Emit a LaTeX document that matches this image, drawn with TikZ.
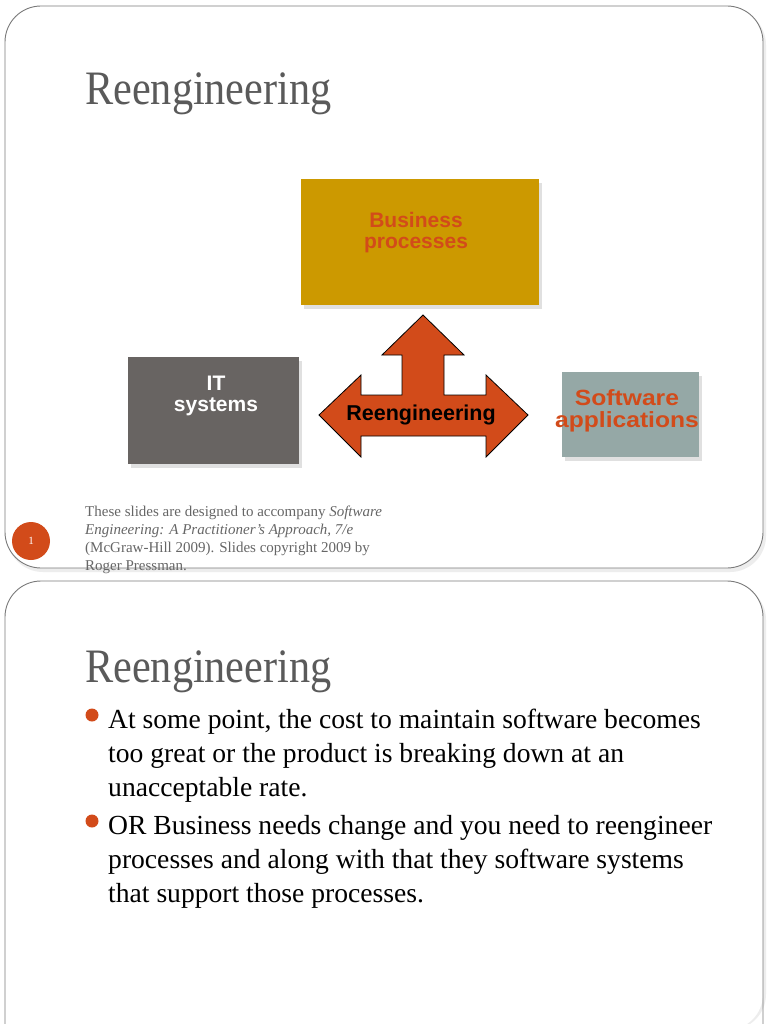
\documentclass[tikz,border=0pt]{standalone}
\usepackage{fontspec}
\setmainfont{Liberation Serif}
\newfontfamily\sansb{Liberation Sans}
\newfontfamily\sanswide[FakeStretch=1.12]{Liberation Sans}
\newfontfamily\titlefont[FakeStretch=0.88]{Liberation Serif}
\usetikzlibrary{shadows}
\definecolor{gold}{HTML}{CC9900}
\definecolor{rust}{HTML}{D24B1A}
\definecolor{itgray}{HTML}{686462}
\definecolor{swgray}{HTML}{95A8A6}
\definecolor{titlegray}{HTML}{5A5A5A}
\definecolor{footgray}{HTML}{666666}
\definecolor{bordergray}{HTML}{7A7A7A}
\tikzset{
  slideframe/.style={draw=bordergray, line width=0.9pt, rounded corners=36pt},
  boxshadow/.style={drop shadow={shadow xshift=3pt, shadow yshift=-4pt, opacity=0.12, fill=black}},
  colbox/.style={rectangle, anchor=north west, inner sep=0pt, boxshadow},
  boxtext/.style={font=\sansb\bfseries\fontsize{21}{21}\selectfont, align=center, anchor=base, inner sep=0pt},
  slidetitle/.style={font=\titlefont\fontsize{48}{48}\selectfont, text=titlegray, anchor=base west, inner sep=0pt},
  bodytext/.style={font=\fontsize{27.6}{34}\selectfont, align=left, anchor=base west, inner sep=0pt},
  bulletdot/.style={circle, fill=rust, minimum size=13pt, inner sep=0pt},
}
\begin{document}
\begin{tikzpicture}[x=1pt,y=-1pt]
\useasboundingbox (0,0) rectangle (768,1024);
\fill[white] (0,0) rectangle (768,1024);
% slide 1
\fill[black!7, rounded corners=36pt] (7,9) rectangle (766,572);
\fill[white, rounded corners=36pt] (5,6) rectangle (763,568);
\draw[slideframe] (5,6) rectangle (763,568);
% slide 2
\fill[black!7, rounded corners=36pt] (7,584) -- (766,584) -- (766,1030) -- (7,1030) -- cycle;
\fill[white, rounded corners=36pt] (5,1030) -- (5,581) -- (763,581) -- (763,1030) -- cycle;
\draw[slideframe] (5,1030) -- (5,581) -- (763,581) -- (763,1030);

% slide 1 content
\node[slidetitle] (t1) at (85,105) {Reengineering};

\node[colbox, fill=gold, minimum width=238pt, minimum height=126pt] (bp) at (301,179) {};
\node[boxtext, text=rust] (bpt) at (416,248) {Business\\processes};

\node[colbox, fill=itgray, minimum width=171pt, minimum height=107pt] (it) at (128,357) {};
\node[boxtext, text=white] (itt) at (216,411) {IT\\systems};

\node[colbox, fill=swgray, minimum width=137pt, minimum height=85pt] (sw) at (562,372) {};
\node[boxtext, text=rust, font=\sanswide\bfseries\fontsize{22}{22}\selectfont] (swt) at (627,427) {Software\\applications};

% three-way arrow
\draw[fill=rust, draw=black, line width=0.8pt, line join=miter]
  (423,315) -- (464,355) -- (444,355) -- (444,395) -- (486,395) -- (486,375)
  -- (528,415) -- (486,457) -- (486,436) -- (361,436) -- (361,457) -- (319,415)
  -- (361,375) -- (361,395) -- (402,395) -- (402,355) -- (382,355) -- cycle;
\node[font=\sansb\bfseries\fontsize{21.5}{21.5}\selectfont, anchor=base, inner sep=0pt] (rt) at (421,420) {Reengineering};

% footer
\node[circle, fill=rust, minimum size=38pt, inner sep=0pt, text=white, font=\fontsize{11}{11}\selectfont] (num) at (31,541) {1};
\node[font=\fontsize{15}{18}\selectfont, text=footgray, align=left, anchor=base west, inner sep=0pt] (foot) at (85,570)
  {These slides are designed to accompany \textit{Software}\\
   \textit{Engineering: A Practitioner’s Approach, 7/e}\\
   (McGraw-Hill 2009). Slides copyright 2009 by\\
   Roger Pressman.};

% slide 2 content
\node[slidetitle] (t2) at (85,682) {Reengineering};
\node[bulletdot] (d1) at (92,715) {};
\node[bodytext] (b1) at (108,796) {At some point, the cost to maintain software becomes\\
  too great or the product is breaking down at an\\
  unacceptable rate.};
\node[bulletdot] (d2) at (92,821) {};
\node[bodytext] (b2) at (108,902) {OR Business needs change and you need to reengineer\\
  processes and along with that they software systems\\
  that support those processes.};
\end{tikzpicture}
\end{document}
